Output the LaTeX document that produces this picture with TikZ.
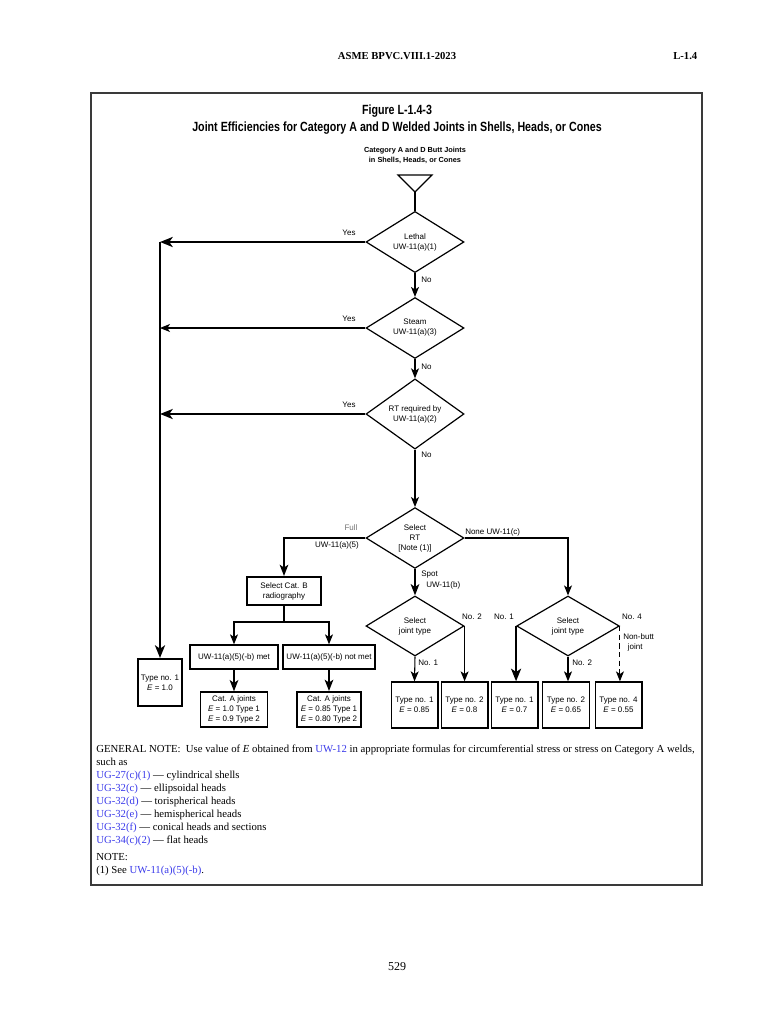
\documentclass[tikz,border=0pt]{standalone}
\usepackage{fontspec}
\setmainfont{Liberation Serif}
\setsansfont{Liberation Sans}
\newfontfamily\headfont[FakeStretch=0.8]{Liberation Sans}
\usetikzlibrary{arrows.meta,shapes.geometric}
\definecolor{linkblue}{HTML}{3C3CEB}
\definecolor{framegray}{HTML}{3A3A3A}

\begin{document}
\begin{tikzpicture}[x=0.75pt,y=-0.75pt,
  diag/.style={font=\sffamily\fontsize{6}{7.5}\selectfont},
  lbl/.style={diag, inner sep=0pt},
  dec/.style={diag, draw, diamond, line width=0.9pt, inner sep=0pt,
    minimum width=73.5pt, minimum height=45pt, align=center},
  box/.style={diag, draw, line width=1pt, inner sep=0pt, align=center},
  thickbox/.style={box, line width=1.5pt},
  ln/.style={line width=0.8pt},
  arr/.style={ln, -{Stealth[length=7.5pt,width=6pt,inset=2pt]}},
  midarr/.style={line width=1.2pt, -{Stealth[length=8.5pt,width=6.5pt,inset=2.2pt]}},
  tarr/.style={line width=1.6pt, -{Stealth[length=9.5pt,width=7.5pt,inset=2.5pt]}}
]

% ---------- page ----------
\fill[white] (0,0) rectangle (768,1024);
\node[font=\bfseries\fontsize{8}{9.6}\selectfont] (hdr) at (397,56) {ASME BPVC.VIII.1-2023};
\node[font=\bfseries\fontsize{8}{9.6}\selectfont, anchor=east] (sect) at (702,56) {L-1.4};
\draw[framegray, line width=1.3pt] (91,93) rectangle (702,885);
\node[font=\fontsize{9}{11}\selectfont] (pageno) at (397,967) {529};

% ---------- title ----------
\node[font=\headfont\bfseries\fontsize{10}{12}\selectfont] (figno) at (397,111) {Figure L-1.4-3};
\node[font=\headfont\bfseries\fontsize{10}{12}\selectfont] (figtitle) at (397,128)
  {Joint Efficiencies for Category A and D Welded Joints in Shells, Heads, or Cones};
\node[font=\sffamily\bfseries\fontsize{5.5}{7.5}\selectfont, align=center] (topic) at (415,155)
  {Category A and D Butt Joints\\in Shells, Heads, or Cones};

% ---------- type box macro ----------
\newcommand{\effbox}[4]{%
  % #1 = name, #2 = x, #3 = type no., #4 = E
  \node[box, minimum width=35pt, minimum height=34.5pt] (#1) at (#2,705)
    {Type no. #3\\\textit{E} = #4};
}

% ==================================================
% Main column
% ==================================================
\draw[line width=0.9pt] (398,175) -- (432,175) -- (415,192) -- cycle;
\coordinate (start) at (415,192);

\node[dec] (lethal) at (415,242) {Lethal\\UW-11(a)(1)};
\node[dec] (steam) at (415,328) {Steam\\UW-11(a)(3)};
\node[dec] (rtreq) at (415,414) {RT required by\\UW-11(a)(2)};
\node[dec] (selrt) at (415,538) {Select\\RT\\{[}Note (1)]};

\draw[line width=1.3pt] (start) -- (lethal.north);
\draw[arr] (lethal.south) -- (steam.north);
\draw[arr] (steam.south) -- (rtreq.north);
\draw[arr] (rtreq.south) -- (selrt.north);

\node[lbl, anchor=west] (no1) at (421,280) {No};
\node[lbl, anchor=west] (no2) at (421,367) {No};
\node[lbl, anchor=west] (no3) at (421,455) {No};

% ==================================================
% Yes branch
% ==================================================
\coordinate (rail) at (160,242);
\node[thickbox, minimum width=33pt, minimum height=35.25pt] (t10) at (160,682.5)
  {Type no. 1\\\textit{E} = 1.0};

\draw[tarr] (lethal.west) -- (lethal.west -| rail);
\draw[arr] (steam.west) -- (steam.west -| rail);
\draw[tarr] (rtreq.west) -- (rtreq.west -| rail);
\draw[tarr] (rail) -- (t10.north);

\node[lbl] (yes1) at (349,233) {Yes};
\node[lbl] (yes2) at (349,319) {Yes};
\node[lbl] (yes3) at (349,405) {Yes};

% ==================================================
% Full RT
% ==================================================
\node[thickbox, minimum width=55.5pt, minimum height=21pt] (catb) at (284,591)
  {Select Cat. B\\radiography};
\node[box, minimum width=66pt, minimum height=18pt] (met) at (234,657)
  {UW-11(a)(5)(-b) met};
\node[box, minimum width=69pt, minimum height=18pt] (notmet) at (329,657)
  {UW-11(a)(5)(-b) not met};
\node[box, minimum width=50pt, minimum height=26.25pt] (cata1) at (234,709.5)
  {Cat. A joints\\\textit{E} = 1.0 Type 1\\\textit{E} = 0.9 Type 2};
\node[thickbox, minimum width=48pt, minimum height=26.25pt] (cata2) at (329,709.5)
  {Cat. A joints\\\textit{E} = 0.85 Type 1\\\textit{E} = 0.80 Type 2};

\draw[midarr] (selrt.west) -| (catb.north);
\coordinate (split) at (284,622);
\draw[ln] (catb.south) -- (split);
\draw[arr] (split) -| (met.north);
\draw[arr] (split) -| (notmet.north);
\draw[midarr] (met.south) -- (cata1.north);
\draw[midarr] (notmet.south) -- (cata2.north);

\node[lbl, text=black!55] (full) at (351,528) {Full};
\node[lbl] (fullref) at (337,545) {UW-11(a)(5)};

% ==================================================
% Spot RT
% ==================================================
\node[dec] (jtspot) at (415,626) {Select\\joint type};
\effbox{spot1}{414.5}{1}{0.85}
\effbox{spot2}{464.5}{2}{0.8}

\draw[midarr] (selrt.south) -- (jtspot.north);
\draw[arr] (jtspot.south) -- (spot1.north);
\draw[arr] (jtspot.east) -- (jtspot.east |- spot2.north);

\node[lbl, anchor=west] (spot) at (421,575) {Spot};
\node[lbl, anchor=west] (spotref) at (426,585) {UW-11(b)};
\node[lbl, anchor=west] (spotno1) at (418,663) {No. 1};
\node[lbl] (spotno2) at (472,617) {No. 2};

% ==================================================
% No RT
% ==================================================
\node[dec, minimum width=77pt] (jtnone) at (568,626) {Select\\joint type};
\effbox{none1}{514.5}{1}{0.7}
\effbox{none2}{566}{2}{0.65}
\effbox{none4}{618.5}{4}{0.55}

\draw[arr] (selrt.east) -| (jtnone.north);
\draw[tarr] (jtnone.west) -- (jtnone.west |- none1.north);
\draw[arr] (jtnone.south) -- (jtnone.south |- none2.north);
\draw[arr, dash pattern=on 4pt off 2.5pt] (jtnone.east) -- (jtnone.east |- none4.north);

\node[lbl, anchor=west] (none) at (465,532) {None UW-11(c)};
\node[lbl] (noneno1) at (504,617) {No. 1};
\node[lbl, anchor=west] (noneno2) at (572,663) {No. 2};
\node[lbl] (noneno4) at (632,617) {No. 4};
\node[lbl, anchor=north west, align=left] (nonbutt) at (623,633)
  {Non-butt\\\hspace*{3.5pt}joint};

% ==================================================
% Notes
% ==================================================
\node[anchor=north west, inner sep=0pt, align=left, font=\fontsize{8.05}{9.75}\selectfont] (notes) at (96,745) {%
GENERAL NOTE:\ \ Use value of \textit{E} obtained from \textcolor{linkblue}{UW-12} in appropriate formulas for circumferential stress or stress on Category A welds,\\
such as\\
\textcolor{linkblue}{UG-27(c)(1)} --- cylindrical shells\\
\textcolor{linkblue}{UG-32(c)} --- ellipsoidal heads\\
\textcolor{linkblue}{UG-32(d)} --- torispherical heads\\
\textcolor{linkblue}{UG-32(e)} --- hemispherical heads\\
\textcolor{linkblue}{UG-32(f)} --- conical heads and sections\\
\textcolor{linkblue}{UG-34(c)(2)} --- flat heads\\[3pt]
NOTE:\\
(1) See \textcolor{linkblue}{UW-11(a)(5)(-b)}.};

\end{tikzpicture}
\end{document}
